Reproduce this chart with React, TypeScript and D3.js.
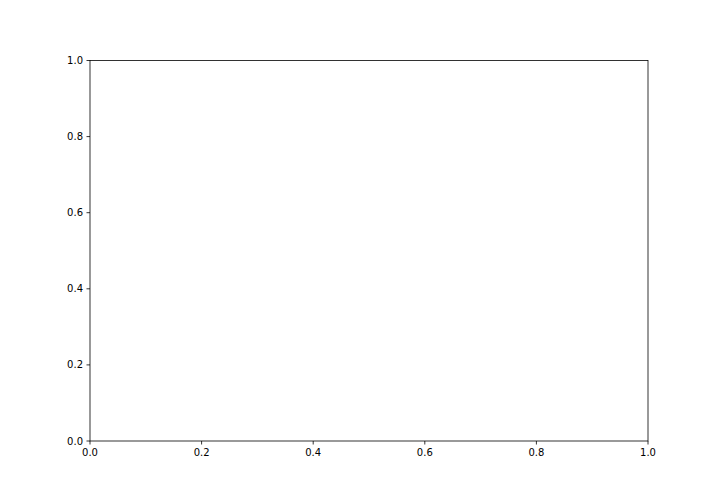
import React from "react";
import * as d3 from "d3";

const xTicks = [0, 0.2, 0.4, 0.6, 0.8, 1.0];
const yTicks = [0, 0.2, 0.4, 0.6, 0.8, 1.0];
const xDomain = [0, 1];
const yDomain = [0, 1];

const W = 720;
const H = 504;
const left = 90;
const right = 648;
const top = 60.5;
const bottom = 441;

export default function App() {
  const x = d3.scaleLinear().domain(xDomain).range([left, right]);
  const y = d3.scaleLinear().domain(yDomain).range([bottom, top]);
  const font = "DejaVu Sans, sans-serif";
  return (
    <svg
      width={W}
      height={H}
      style={{ position: "absolute", left: 0, top: 0, background: "#fff" }}
    >
      <rect x={0} y={0} width={W} height={H} fill="#fff" />
      {xTicks.map((t) => (
        <g key={"x" + t}>
          <line x1={x(t)} x2={x(t)} y1={bottom} y2={bottom + 3.5} stroke="#000" strokeWidth={0.8} />
          <text
            x={x(t)}
            y={bottom + 7}
            dy="0.76em"
            textAnchor="middle"
            fontFamily={font}
            fontSize={10}
            fill="#000"
          >
            {t.toFixed(1)}
          </text>
        </g>
      ))}
      {yTicks.map((t) => (
        <g key={"y" + t}>
          <line x1={left - 3.5} x2={left} y1={y(t)} y2={y(t)} stroke="#000" strokeWidth={0.8} />
          <text
            x={left - 7}
            y={y(t)}
            dy="0.35em"
            textAnchor="end"
            fontFamily={font}
            fontSize={10}
            fill="#000"
          >
            {t.toFixed(1)}
          </text>
        </g>
      ))}
      <rect
        x={left}
        y={top}
        width={right - left}
        height={bottom - top}
        fill="none"
        stroke="#000"
        strokeWidth={0.8}
      />
    </svg>
  );
}
